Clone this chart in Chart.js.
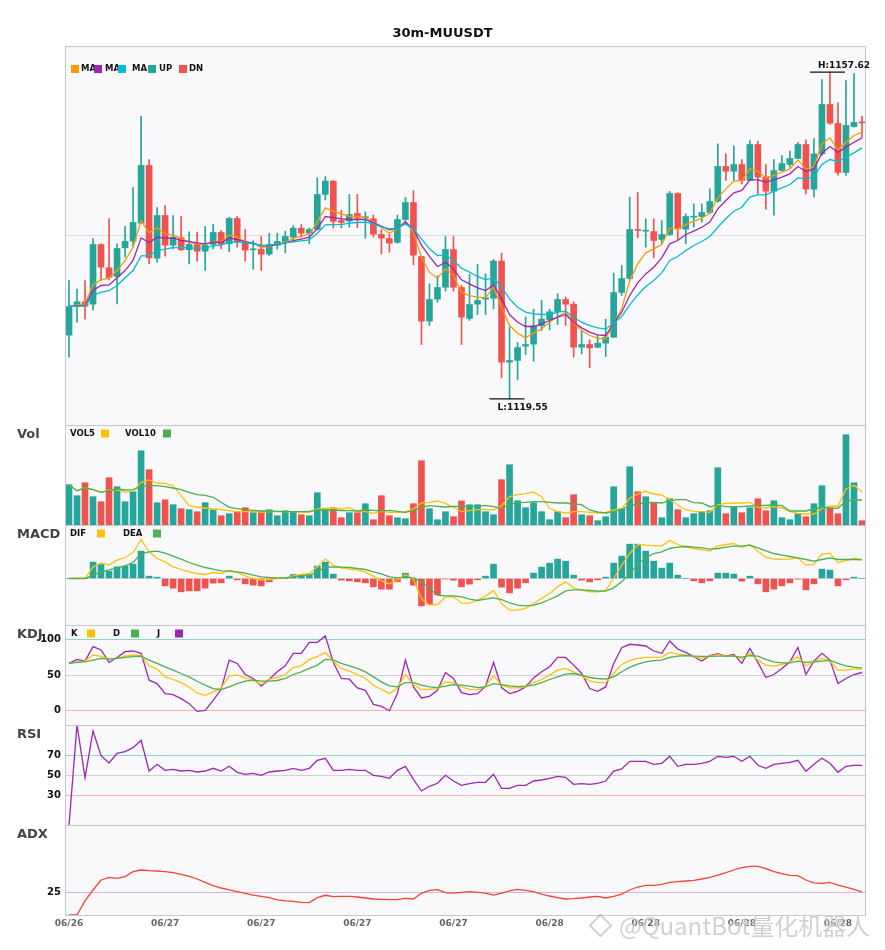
<!DOCTYPE html>
<html>
<head>
<meta charset="utf-8">
<title>30m-MUUSDT</title>
<script src="https://cdn.jsdelivr.net/npm/chart.js@4.4.1/dist/chart.umd.min.js"></script>
<style>
  body { margin: 0; background: #fff; }
  #wrap { position: relative; width: 885px; height: 950px; }
  #wrap canvas { position: absolute; left: 0; }
  #mark { position: absolute; left: 619px; top: 910px; font: 24px "Noto Sans CJK SC", sans-serif; line-height: 30px; color: rgba(150,150,150,0.45); white-space: nowrap; text-shadow: 0 0 2px #fff; }
  #markIcon { position: absolute; left: 592px; top: 917px; width: 13px; height: 13px; border: 2px solid rgba(150,150,150,0.45); transform: rotate(45deg); }
</style>
</head>
<body>
<div id="wrap">
  <canvas id="cMain" width="885" height="425" style="top:0"></canvas>
  <canvas id="cVol" width="885" height="100" style="top:425px"></canvas>
  <canvas id="cMacd" width="885" height="100" style="top:525px"></canvas>
  <canvas id="cKdj" width="885" height="100" style="top:625px"></canvas>
  <canvas id="cRsi" width="885" height="100" style="top:725px"></canvas>
  <canvas id="cAdx" width="885" height="110" style="top:825px"></canvas>
  <div id="markIcon"></div>
  <div id="mark">@QuantBot量化机器人</div>
</div>
<script>
// x axis tick labels, one every 12 candles (30m bars)
var tickLabels = ['06/26', '06/27', '06/27', '06/27', '06/27', '06/28', '06/28', '06/28', '06/28'];

var opens = [1126.97,1130.35,1130.86,1130.58,1137.54,1134.82,1133.81,1137.15,1137.93,1140.02,
  1146.75,1135.94,1140.92,1137.46,1138.35,1136.92,1137.54,1136.76,1137.54,1138.94,
  1137.62,1140.57,1137.85,1136.92,1136.99,1136.41,1137.46,1137.89,1138.39,1139.44,
  1138.86,1139.29,1143.37,1144.92,1140.33,1140.26,1141.15,1140.65,1140.53,1138.70,
  1138.24,1137.77,1140.45,1142.43,1136.14,1128.60,1131.17,1132.56,1136.95,1132.53,
  1128.91,1130.58,1131.17,1131.28,1135.60,1123.82,1124.02,1125.69,1125.92,1128.06,
  1128.76,1129.73,1131.13,1130.58,1125.57,1125.88,1125.57,1126.04,1126.74,1131.94,
  1133.57,1139.29,1139.09,1139.05,1138.12,1138.70,1143.48,1139.32,1140.72,1140.80,
  1141.27,1142.59,1146.63,1146.08,1146.86,1145.00,1149.19,1145.39,1143.75,1146.16,
  1146.86,1147.56,1149.19,1143.99,1148.10,1153.85,1151.64,1145.93,1151.29,1151.80];
var highs = [1133.34,1132.33,1133.34,1138.24,1137.62,1140.57,1137.62,1139.64,1144.18,1152.46,
  1147.44,1141.85,1142.08,1140.92,1140.80,1139.01,1138.94,1139.64,1139.91,1139.17,
  1140.72,1140.80,1139.29,1138.00,1138.47,1138.86,1138.86,1139.09,1139.75,1139.87,
  1139.48,1145.31,1145.46,1145.00,1141.50,1143.37,1143.37,1141.34,1140.96,1139.25,
  1138.78,1140.96,1143.02,1143.83,1136.14,1132.95,1133.89,1138.47,1138.47,1132.76,
  1134.04,1135.21,1134.12,1135.79,1136.53,1127.90,1126.12,1129.07,1130.00,1131.01,
  1130.00,1131.79,1131.40,1130.86,1127.51,1126.43,1126.97,1128.84,1134.20,1135.09,
  1143.05,1143.60,1140.53,1140.53,1140.33,1143.71,1143.56,1141.11,1142.28,1142.28,
  1144.03,1149.27,1148.10,1149.04,1147.44,1149.66,1149.58,1146.86,1147.44,1147.91,
  1148.42,1149.43,1149.74,1149.89,1156.77,1157.62,1154.09,1156.65,1157.45,1152.46];
var lows = [1124.41,1128.49,1128.84,1129.92,1133.34,1133.42,1130.62,1136.06,1137.23,1140.02,
  1135.28,1135.48,1136.18,1137.03,1136.84,1135.28,1135.60,1134.51,1137.03,1137.03,
  1136.68,1137.23,1135.60,1134.66,1134.51,1136.26,1136.99,1136.57,1137.81,1138.39,
  1137.62,1139.24,1142.74,1139.48,1139.48,1139.56,1139.48,1138.28,1138.39,1136.45,
  1136.64,1137.69,1140.02,1135.17,1125.88,1128.10,1130.82,1132.10,1132.10,1125.88,
  1128.68,1129.38,1129.38,1130.04,1122.00,1119.55,1121.76,1124.72,1123.94,1127.51,
  1127.59,1128.21,1128.10,1124.41,1124.79,1123.16,1125.49,1124.48,1126.66,1131.59,
  1133.34,1138.31,1137.23,1135.98,1137.62,1138.59,1138.08,1137.62,1139.56,1140.14,
  1141.11,1142.47,1145.00,1145.00,1144.61,1145.00,1143.44,1141.66,1140.96,1146.16,
  1146.55,1147.56,1143.44,1143.05,1147.91,1151.52,1145.62,1145.58,1151.21,1150.05];
var closes = [1130.31,1130.86,1130.35,1137.54,1134.90,1133.69,1137.07,1137.89,1140.10,1146.75,
  1135.98,1140.92,1137.46,1138.39,1136.92,1137.54,1136.76,1137.46,1138.94,1137.54,
  1140.57,1137.85,1136.88,1136.99,1136.41,1137.54,1137.89,1138.47,1139.44,1138.86,
  1139.29,1143.37,1144.92,1140.22,1140.10,1141.03,1140.61,1140.76,1138.74,1138.28,
  1137.69,1140.45,1142.43,1136.29,1128.60,1131.13,1132.53,1136.95,1132.56,1129.07,
  1130.54,1131.01,1131.32,1135.60,1123.82,1124.02,1125.53,1125.88,1128.06,1128.84,
  1129.69,1131.13,1130.58,1125.57,1125.88,1125.49,1126.04,1126.74,1131.94,1133.57,
  1139.29,1139.17,1139.21,1138.00,1138.70,1143.48,1139.36,1140.80,1140.84,1141.27,
  1142.55,1146.63,1146.08,1146.86,1145.00,1149.19,1145.39,1143.75,1146.16,1146.98,
  1147.56,1149.19,1143.99,1148.10,1153.85,1151.68,1145.93,1151.41,1151.76,1151.71];

var maFast = [1130.31,1130.50,1130.62,1132.87,1133.42,1133.61,1134.50,1135.67,1137.22,1140.33,
  1138.89,1139.48,1138.78,1138.66,1138.23,1137.81,1137.61,1137.53,1137.92,1137.84,
  1138.66,1138.39,1137.84,1137.69,1137.22,1137.30,1137.57,1137.77,1138.27,1138.47,
  1138.78,1140.14,1141.81,1141.42,1141.07,1140.84,1140.80,1140.64,1140.14,1139.48,
  1138.85,1139.36,1140.21,1138.97,1136.06,1134.31,1133.61,1134.70,1133.92,1131.98,
  1131.59,1131.40,1131.32,1132.56,1130.23,1128.09,1127.20,1126.66,1127.20,1127.70,
  1128.48,1129.14,1129.65,1128.37,1127.51,1126.93,1126.62,1126.54,1128.37,1130.04,
  1133.34,1135.28,1136.56,1137.03,1137.53,1139.44,1139.36,1139.86,1140.25,1140.60,
  1141.19,1142.97,1144.02,1144.92,1144.99,1146.35,1146.08,1145.30,1145.58,1145.96,
  1146.35,1147.40,1146.35,1146.55,1149.27,1149.97,1148.57,1149.46,1150.24,1150.63];
var maMid = [1130.31,1130.39,1130.42,1132.17,1132.76,1132.83,1133.65,1134.50,1135.67,1138.31,
  1137.77,1138.39,1138.27,1138.31,1138.00,1137.88,1137.73,1137.61,1137.81,1137.77,
  1138.27,1138.12,1137.84,1137.69,1137.38,1137.38,1137.53,1137.69,1138.00,1138.16,
  1138.39,1139.36,1140.80,1140.68,1140.53,1140.45,1140.45,1140.45,1140.06,1139.67,
  1139.24,1139.40,1140.14,1139.36,1137.46,1136.14,1134.97,1135.47,1134.70,1133.42,
  1132.95,1132.48,1132.17,1132.83,1131.20,1129.38,1128.48,1127.98,1127.98,1128.29,
  1128.68,1129.06,1129.38,1128.48,1127.82,1127.32,1127.01,1126.93,1128.37,1129.65,
  1131.59,1133.07,1134.11,1134.89,1135.98,1137.61,1138.00,1138.70,1139.09,1139.55,
  1140.14,1141.69,1142.66,1143.56,1143.83,1145.07,1145.07,1144.80,1145.07,1145.38,
  1145.77,1146.62,1146.04,1146.35,1148.18,1148.96,1148.26,1148.88,1149.46,1149.97];
var maSlow = [1130.31,1130.35,1130.39,1131.59,1131.98,1132.17,1132.76,1133.65,1134.50,1136.21,
  1136.25,1136.83,1136.99,1137.18,1137.18,1137.15,1137.11,1137.15,1137.38,1137.46,
  1137.84,1137.81,1137.77,1137.61,1137.42,1137.46,1137.57,1137.73,1137.84,1137.96,
  1138.08,1138.85,1139.83,1139.86,1139.86,1140.02,1140.10,1140.14,1139.94,1139.63,
  1139.36,1139.44,1139.94,1139.36,1138.19,1137.03,1136.25,1136.33,1135.67,1134.78,
  1134.31,1133.81,1133.45,1133.65,1132.56,1131.20,1130.23,1129.65,1129.45,1129.38,
  1129.38,1129.65,1129.76,1129.06,1128.48,1128.09,1127.82,1127.67,1128.37,1129.14,
  1130.50,1131.67,1132.64,1133.34,1134.23,1135.67,1136.14,1136.83,1137.42,1137.88,
  1138.47,1139.55,1140.53,1141.42,1141.88,1143.05,1143.32,1143.32,1143.75,1144.14,
  1144.53,1145.30,1145.19,1145.46,1146.86,1147.44,1147.21,1147.71,1148.22,1148.80];

var volumes = [403,293,423,283,233,473,383,233,333,743,
  553,223,253,203,163,153,133,223,153,93,
  113,133,173,123,133,153,93,143,133,103,
  93,323,153,173,73,123,123,213,53,293,
  93,73,63,213,643,163,53,133,83,240,
  203,203,133,103,453,603,243,173,223,133,
  53,133,73,303,103,93,43,83,383,163,
  583,333,283,223,73,263,153,73,113,133,
  143,573,113,183,123,173,263,143,243,73,
  53,113,83,213,393,173,113,903,423,43];
var vol5 = [403,343,370,353,327,350,350,327,340,427,
  450,420,417,393,293,193,180,170,160,153,
  143,133,133,133,127,133,133,133,133,127,
  127,160,167,170,160,173,140,133,117,137,
  127,127,133,160,220,227,240,217,177,133,
  143,153,153,150,193,283,303,313,330,283,
  167,133,120,133,133,127,120,127,150,160,
  270,310,337,310,300,253,200,153,137,133,
  127,203,217,220,220,227,177,170,183,170,
  133,117,110,110,163,190,190,360,397,330];
var vol10 = [403,343,370,353,327,343,360,350,353,383,
  393,393,383,370,353,327,303,297,277,227,
  177,163,153,147,140,140,137,133,133,133,
  137,150,150,150,143,143,140,150,147,140,
  147,137,127,143,177,193,187,180,187,187,
  187,187,197,183,167,203,223,227,233,233,
  227,220,220,210,203,150,130,120,137,157,
  193,210,223,227,220,243,253,253,223,220,
  183,197,183,183,183,190,193,197,200,193,
  140,140,140,160,177,170,167,240,250,250];

var difValues = [0,0.013,0,0.233,0.313,0.267,0.367,0.42,0.52,0.78,
  0.533,0.4,0.333,0.233,0.18,0.133,0.1,0.08,0.12,0.1,
  0.167,0.12,0.053,0,-0.033,-0.02,0,0.013,0.053,0.08,
  0.1,0.233,0.387,0.267,0.213,0.187,0.167,0.133,0.047,-0.047,
  -0.107,-0.033,0.08,-0.013,-0.4,-0.533,-0.52,-0.367,-0.367,-0.493,
  -0.493,-0.433,-0.353,-0.24,-0.5,-0.633,-0.633,-0.6,-0.5,-0.4,
  -0.3,-0.167,-0.067,-0.187,-0.233,-0.267,-0.267,-0.233,0,0.267,
  0.5,0.68,0.667,0.653,0.653,0.76,0.68,0.633,0.6,0.573,
  0.547,0.653,0.68,0.7,0.62,0.68,0.547,0.427,0.387,0.387,
  0.387,0.413,0.267,0.28,0.487,0.507,0.313,0.36,0.4,0.38];
var deaValues = [0,0,0,0.067,0.133,0.173,0.213,0.253,0.32,0.5,
  0.533,0.547,0.507,0.447,0.387,0.32,0.267,0.22,0.187,0.153,
  0.147,0.133,0.107,0.067,0.033,0.02,0.013,0.013,0.033,0.053,
  0.067,0.133,0.227,0.233,0.227,0.22,0.2,0.18,0.133,0.093,
  0.033,0.013,0.033,0.013,-0.067,-0.2,-0.333,-0.347,-0.347,-0.367,
  -0.413,-0.44,-0.413,-0.387,-0.42,-0.487,-0.533,-0.547,-0.533,-0.487,
  -0.42,-0.347,-0.247,-0.227,-0.227,-0.24,-0.253,-0.253,-0.187,-0.067,
  0.1,0.28,0.413,0.5,0.533,0.6,0.627,0.64,0.627,0.613,
  0.587,0.6,0.627,0.647,0.647,0.667,0.613,0.553,0.5,0.467,
  0.44,0.413,0.38,0.347,0.38,0.413,0.38,0.38,0.38,0.373];
var macdHist = [0,0,0,0.327,0.28,0.147,0.233,0.247,0.287,0.547,
  0.047,0.027,-0.147,-0.193,-0.267,-0.247,-0.247,-0.193,-0.093,-0.087,
  0.047,-0.027,-0.107,-0.133,-0.147,-0.067,0,0,0.08,0.08,
  0.08,0.247,0.327,0.087,-0.033,-0.047,-0.067,-0.087,-0.167,-0.213,
  -0.213,-0.067,0.107,-0.133,-0.547,-0.513,-0.327,-0.01,-0.033,-0.167,
  -0.113,-0.027,0.047,0.287,-0.173,-0.287,-0.193,-0.087,0.107,0.227,
  0.307,0.387,0.347,0.067,-0.033,-0.067,-0.027,0.027,0.307,0.447,
  0.687,0.687,0.547,0.347,0.207,0.307,0.067,0,-0.047,-0.087,
  -0.047,0.107,0.107,0.087,-0.053,0.047,-0.107,-0.267,-0.213,-0.147,
  -0.087,-0.013,-0.227,-0.107,0.187,0.167,-0.147,-0.027,0.027,0];

var kValues = [66.2,68.5,69.5,77.9,76.5,71.8,73.2,76.5,77.9,77.0,
  62.9,58.2,47.4,43.7,39.4,33.3,24.9,21.6,26.3,31.9,
  48.8,49.8,46.0,42.7,36.6,44.1,46.5,50.7,60.6,62.9,
  71.8,75.6,81.7,69.0,59.2,55.4,50.7,45.1,35.7,30.0,
  23.9,31.9,50.7,36.6,30.0,30.0,31.0,40.4,39.4,33.3,
  30.0,29.6,34.3,48.8,35.7,31.9,31.9,33.3,39.4,43.7,
  49.8,56.8,59.2,54.5,48.8,41.8,39.4,39.4,52.1,64.8,
  70.4,73.2,74.6,74.6,75.1,81.7,79.3,77.9,75.6,73.2,
  76.5,78.9,76.5,77.0,73.2,80.3,70.9,63.8,62.4,64.8,
  68.5,75.6,62.9,68.5,73.2,70.0,56.8,56.8,58.2,58.7];
var dValues = [66.2,67.6,68.5,70.9,73.2,72.3,73.2,74.6,75.6,76.5,
  70.9,66.2,61.5,56.8,52.1,47.4,41.3,35.7,31.0,29.6,
  33.3,38.0,41.3,42.7,41.3,41.3,42.3,45.1,50.7,54.5,
  59.2,63.8,71.8,70.9,66.2,62.9,59.2,54.5,47.4,40.4,
  34.7,33.3,39.4,39.4,35.7,33.3,32.4,34.3,36.6,35.7,
  34.3,32.4,33.3,38.0,36.6,34.7,33.8,34.3,35.7,39.4,
  43.7,47.4,51.2,52.1,49.8,46.5,45.1,44.1,47.4,54.5,
  60.6,65.3,68.5,70.0,70.9,74.6,76.5,77.0,76.5,76.1,
  76.1,76.5,76.5,76.5,75.1,77.0,76.5,71.8,68.5,67.1,
  67.1,69.5,67.6,68.5,69.5,70.4,66.2,62.9,61.0,59.6];
var jValues = [66.2,71.8,69.5,89.7,85.0,67.6,74.6,82.6,83.6,80.3,
  42.7,38.0,23.9,22.5,16.9,9.9,-0.9,0.5,14.6,30.0,
  70.9,66.2,50.7,45.1,34.3,44.1,54.5,62.9,80.3,80.3,
  95.8,95.8,104.7,67.6,45.1,44.1,31.9,28.6,8.9,6.1,
  0,23.9,70.9,33.3,17.8,20.2,28.6,53.5,45.1,25.4,
  22.5,23.9,34.3,67.6,32.4,23.9,27.2,33.3,46.0,54.5,
  61.5,74.6,74.6,63.8,52.1,31.0,27.2,33.3,66.2,88.3,
  93.0,92.0,90.6,83.6,80.3,97.7,86.4,81.7,75.6,69.5,
  77.0,79.8,76.5,78.9,66.2,87.3,67.6,46.5,50.7,59.2,
  68.5,88.7,50.7,69.5,80.3,70.9,38.0,45.1,50.7,53.5];

var rsiValues = [0,100,47.3,94,69.3,62,71.7,73.3,77.3,84.7,
  54,60.7,54.7,55.7,54,54.7,53,54,56.7,54,
  58.7,52.7,50.7,51.7,49.7,53,54,54.7,56.7,54.7,
  56.7,64.7,66.7,54.7,54.7,55.7,54.7,54.7,49.7,48.7,
  46.7,54.7,58.7,45.7,34,38.7,41.7,49.7,44,39.7,
  41.3,42.7,42.7,50.7,36.7,36.7,39.7,39.7,44,45,
  46.7,48.7,47.7,40.7,41.3,40.7,41.7,44,54,56,
  63.7,63.7,63.7,60.7,61.7,68.7,58.7,60.7,60.7,61.7,
  63.7,68.7,67.7,68.7,63.7,68.7,59.7,56.7,60.7,61.7,
  62.7,64.7,53.7,60.7,66.7,61.7,52.7,58.7,59.7,59.7];

var adxValues = [0,0,15.6,27.8,38.9,41.9,40.7,42.6,48.1,50,
  49.3,48.9,48.1,47,45.2,43,40,36.3,32.6,30,
  27.8,25.9,24.1,22.2,20.7,19.3,16.7,15.6,15.2,14.1,
  13.7,19.3,21.9,20.4,20.7,20.7,20,18.9,17.8,17.4,
  17,17,18.5,17.8,24.1,27.4,28.1,24.8,24.4,25.2,
  25.9,25.2,24.4,22.2,24.4,26.7,28.5,27.4,25.9,23.3,
  21.1,19.3,17.8,18.1,18.9,20,20.7,18.9,20.7,23.3,
  27.8,31.1,33,33,34.1,36.3,37,37.8,38.5,40,
  41.9,44.4,47,50,52.6,54.1,54.1,51.5,48.1,45.9,
  44.1,43.7,38.9,35.6,35.2,36.3,33.3,31.1,28.5,25.6];

var UP = '#26a69a', DN = '#ef5350';
var ORANGE = '#ff9800', PURPLE = '#9c27b0', CYAN = '#00bcd4';
var YELLOW = '#ffc107', GREEN = '#4caf50', ADXRED = '#f44336';
var FONT = '"DejaVu Sans", sans-serif';

Chart.defaults.font.family = FONT;

var idx = closes.map(function (c, i) { return i; });
var candleColors = closes.map(function (c, i) { return c >= opens[i] ? UP : DN; });
var histColors = macdHist.map(function (v) { return v >= 0 ? UP : DN; });

// background, frame, panel name and the little hand made legend
var panelDecor = {
    id: 'panelDecor',
    beforeDraw: function (chart) {
        var a = chart.chartArea, ctx = chart.ctx;
        ctx.save();
        ctx.fillStyle = '#f9f9fb';
        ctx.fillRect(a.left, a.top, a.right - a.left, a.bottom - a.top);
        ctx.restore();
    },
    afterDraw: function (chart, args, opts) {
        var a = chart.chartArea, ctx = chart.ctx;
        ctx.save();
        ctx.strokeStyle = '#c6c6ce';
        ctx.lineWidth = 1;
        ctx.strokeRect(a.left + 0.5, a.top + 0.5, a.right - a.left - 1, a.bottom - a.top);
        ctx.textBaseline = 'middle';
        ctx.textAlign = 'left';
        if (opts.name) {
            ctx.font = 'bold 13px ' + FONT;
            ctx.fillStyle = '#444';
            ctx.fillText(opts.name, 17, a.top + 10);
        }
        ctx.font = 'bold 8.5px ' + FONT;
        (opts.legend || []).forEach(function (it) {
            if (it.color) {
                ctx.fillStyle = it.color;
                ctx.fillRect(it.x, opts.legendY - 4, 8, 8);
            } else {
                ctx.fillStyle = '#111';
                ctx.fillText(it.text, it.x, opts.legendY);
            }
        });
        ctx.restore();
    }
};
Chart.register(panelDecor);

// title plus the H / L markers on the price panel
var priceMarks = {
    id: 'priceMarks',
    afterDraw: function (chart) {
        var ctx = chart.ctx, xs = chart.scales.x, ys = chart.scales.y;
        var hi = 0, lo = 0;
        highs.forEach(function (v, i) { if (v > highs[hi]) hi = i; });
        lows.forEach(function (v, i) { if (v < lows[lo]) lo = i; });
        ctx.save();
        ctx.fillStyle = '#111';
        ctx.textAlign = 'center';
        ctx.textBaseline = 'middle';
        ctx.font = 'bold 13px ' + FONT;
        ctx.fillText('30m-MUUSDT', 442.5, 34);

        ctx.strokeStyle = '#111';
        ctx.lineWidth = 1.3;
        ctx.font = 'bold 9px ' + FONT;
        ctx.textAlign = 'left';
        var hx = xs.getPixelForValue(hi), hy = ys.getPixelForValue(highs[hi]);
        ctx.beginPath(); ctx.moveTo(hx - 20, hy); ctx.lineTo(hx + 15, hy); ctx.stroke();
        ctx.fillText('H:' + highs[hi].toFixed(2), hx - 12, hy - 7);
        var lx = xs.getPixelForValue(lo), ly = ys.getPixelForValue(lows[lo]);
        ctx.beginPath(); ctx.moveTo(lx - 20, ly); ctx.lineTo(lx + 15, ly); ctx.stroke();
        ctx.fillText('L:' + lows[lo].toFixed(2), lx - 12, ly + 8.5);
        ctx.restore();
    }
};

function xAxis(show) {
    return {
        type: 'category',
        offset: true,
        display: show,
        grid: { display: false, drawTicks: false },
        border: { display: false },
        afterFit: function (s) { if (show) { s.height = 20; s.paddingLeft = 0; s.paddingRight = 0; } },
        ticks: {
            autoSkip: false, maxRotation: 0, padding: 3, color: '#666',
            font: { size: 9, weight: 'bold' },
            callback: function (v, i) { return i % 12 === 0 ? tickLabels[i / 12] : ''; }
        }
    };
}

function yAxis(min, max, lines, labels, colorOf) {
    return {
        min: min, max: max,
        afterFit: function (s) { s.width = 65; s.paddingTop = 0; s.paddingBottom = 0; },
        afterBuildTicks: function (s) { s.ticks = lines.map(function (v) { return { value: v }; }); },
        grid: {
            display: lines.length > 0, drawTicks: false, lineWidth: 1,
            color: function (c) { return colorOf ? colorOf(c.tick ? c.tick.value : 0) : '#dcdce0'; }
        },
        border: { display: false },
        ticks: { display: labels, padding: 4, color: '#111', font: { size: 10, weight: 'bold' } }
    };
}

function lineSet(data, color, order) {
    return { type: 'line', data: data, borderColor: color, borderWidth: 1.3, pointRadius: 0, tension: 0, fill: false, order: order || 0 };
}

function opts(y, showX, decor, padTop) {
    return {
        responsive: false, animation: false, devicePixelRatio: 1, events: [],
        layout: { padding: { left: 0, right: 19, top: padTop || 0, bottom: 0 } },
        plugins: { legend: { display: false }, tooltip: { enabled: false }, panelDecor: decor },
        scales: { x: xAxis(showX), y: y }
    };
}

function bandColor(v) {
    if (v >= 70) return '#8fd6ca';
    if (v === 25) return '#dcb2e4';
    if (v <= 30) return '#f5b3b3';
    return '#d2d2d6';
}

// price panel
new Chart(document.getElementById('cMain'), {
    type: 'bar',
    data: {
        labels: idx,
        datasets: [
            { data: lows.map(function (l, i) { return [l, highs[i]]; }), backgroundColor: candleColors, barThickness: 1, grouped: false, order: 3 },
            { data: opens.map(function (o, i) { return [o, closes[i]]; }), backgroundColor: candleColors, barThickness: 6, minBarLength: 1, grouped: false, order: 2 },
            lineSet(maSlow, CYAN, 1),
            lineSet(maMid, PURPLE, 1),
            lineSet(maFast, ORANGE, 1)
        ]
    },
    options: opts(yAxis(1116.5, 1160.67, [1138.585], false), false, {
        legendY: 69,
        legend: [
            { x: 71, color: ORANGE }, { x: 81, text: 'MA' },
            { x: 94, color: PURPLE }, { x: 105, text: 'MA' },
            { x: 118, color: CYAN }, { x: 132, text: 'MA' },
            { x: 148, color: UP }, { x: 159, text: 'UP' },
            { x: 179, color: DN }, { x: 189, text: 'DN' }
        ]
    }, 46),
    plugins: [priceMarks]
});

// volume
new Chart(document.getElementById('cVol'), {
    type: 'bar',
    data: {
        labels: idx,
        datasets: [
            { data: volumes, backgroundColor: candleColors, barThickness: 6, order: 2 },
            lineSet(vol10, GREEN, 1),
            lineSet(vol5, YELLOW, 1)
        ]
    },
    options: opts(yAxis(0, 1000, [], false), false, {
        name: 'Vol', legendY: 8.5,
        legend: [{ x: 70, text: 'VOL5' }, { x: 101, color: YELLOW }, { x: 125, text: 'VOL10' }, { x: 163, color: GREEN }]
    })
});

// MACD
new Chart(document.getElementById('cMacd'), {
    type: 'bar',
    data: {
        labels: idx,
        datasets: [
            { data: macdHist, backgroundColor: histColors, barThickness: 6, order: 2 },
            lineSet(deaValues, GREEN, 1),
            lineSet(difValues, YELLOW, 1)
        ]
    },
    options: opts(yAxis(-0.93, 1.07, [0], false), false, {
        name: 'MACD', legendY: 8.5,
        legend: [{ x: 70, text: 'DIF' }, { x: 97, color: YELLOW }, { x: 123, text: 'DEA' }, { x: 153, color: GREEN }]
    })
});

// KDJ
new Chart(document.getElementById('cKdj'), {
    type: 'line',
    data: {
        labels: idx,
        datasets: [lineSet(dValues, GREEN), lineSet(kValues, YELLOW), lineSet(jValues, PURPLE)]
    },
    options: opts(yAxis(-20, 120, [0, 50, 100], true, bandColor), false, {
        name: 'KDJ', legendY: 8.5,
        legend: [{ x: 71, text: 'K' }, { x: 87, color: YELLOW }, { x: 113, text: 'D' }, { x: 131, color: GREEN }, { x: 157, text: 'J' }, { x: 175, color: PURPLE }]
    })
});

// RSI
new Chart(document.getElementById('cRsi'), {
    type: 'line',
    data: { labels: idx, datasets: [lineSet(rsiValues, PURPLE)] },
    options: opts(yAxis(0, 100, [30, 50, 70], true, bandColor), false, { name: 'RSI' })
});

// ADX
new Chart(document.getElementById('cAdx'), {
    type: 'line',
    data: { labels: idx, datasets: [lineSet(adxValues, ADXRED)] },
    options: opts(yAxis(0, 100, [25], true, bandColor), true, { name: 'ADX' })
});
</script>
</body>
</html>
